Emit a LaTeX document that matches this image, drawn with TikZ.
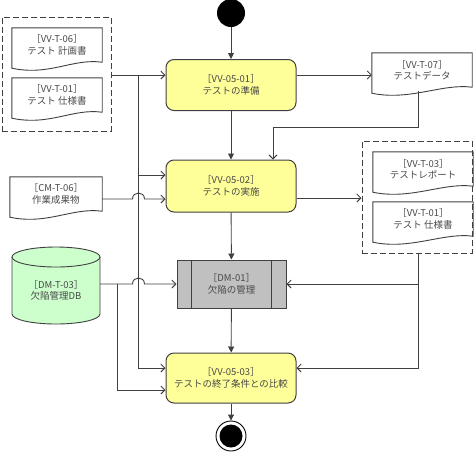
\documentclass[tikz,border=0pt]{standalone}
\usepackage{fontspec}
\setmainfont{Noto Sans CJK JP}
\usetikzlibrary{arrows.meta,calc}
\definecolor{ln}{HTML}{404040}
\definecolor{txt}{HTML}{484848}
\definecolor{ylw}{HTML}{FFFF99}
\definecolor{grn}{HTML}{CCFFCC}
\definecolor{gry}{HTML}{C0C0C0}
\newcommand{\docshape}[1]{%
  \draw[docline] (#1.north west) -- (#1.north east) -- (#1.south east)
   .. controls ($(#1.south east)+(-30,-4)$) and ($(#1.south west)+(38,14)$) .. ($(#1.south west)+(0,6)$) -- cycle;}
\begin{document}
\begin{tikzpicture}[x=1pt,y=-1pt,
  font=\fontsize{9.5}{11.5}\selectfont,
  line/.style={draw=ln,line width=0.9pt},
  ctrl/.style={line,-{Triangle[length=6pt,width=6pt]}},
  obj/.style={line,-{Straight Barb[length=4pt,width=8pt]}},
  act/.style={draw=ln,line width=1pt,fill=ylw,rounded corners=8pt,text=txt,align=center,minimum width=130pt,inner sep=0pt},
  doc/.style={text=txt,align=center,minimum height=34pt,inner sep=0pt},
  docline/.style={draw=ln,line width=0.9pt},
  group/.style={draw=ln,line width=1pt,dash pattern=on 6pt off 3pt,inner sep=0pt},
]
\useasboundingbox (0,0) rectangle (474,451);
\clip (0,0) rectangle (474,451);

% groups
\node[group,minimum width=109pt,minimum height=114pt] (g1) at (56.5,74) {};
\node[group,minimum width=110pt,minimum height=112pt] (g2) at (417,197) {};

% documents
\node[doc,minimum width=90pt] (t06) at (57,45) {［VV-T-06］\\テスト 計画書};
\node[doc,minimum width=90pt] (t01a) at (57,95) {［VV-T-01］\\テスト 仕様書};
\node[doc,minimum width=100pt] (t07) at (422,70) {［VV-T-07］\\テストデータ};
\node[doc,minimum width=92pt] (cm06) at (56,194) {［CM-T-06］\\作業成果物};
\node[doc,minimum width=100pt] (t03) at (423,169) {［VV-T-03］\\テストレポート};
\node[doc,minimum width=100pt] (t01b) at (423,219) {［VV-T-01］\\テスト 仕様書};
\docshape{t06}\docshape{t01a}\docshape{t07}\docshape{cm06}\docshape{t03}\docshape{t01b}

% database cylinder
\node[minimum width=88pt,minimum height=77pt,inner sep=0pt] (db) at (56,285.5) {};
\filldraw[draw=ln,line width=0.9pt,fill=grn] (12,257) -- (12,314)
  arc[start angle=180,end angle=360,x radius=44pt,y radius=10pt] -- (100,257) -- cycle;
\filldraw[draw=ln,line width=0.9pt,fill=grn] (56,257) ellipse[x radius=44pt,y radius=10pt];
\node[text=txt,align=center] (dbl) at ($(db.center)+(0,5)$) {［DM-T-03］\\欠陥管理DB};

% start / end
\node[circle,fill=black,minimum size=28pt,inner sep=0pt] (start) at (231,13) {};
\node[circle,draw=black,line width=0.9pt,minimum size=30pt,inner sep=0pt] (end) at (231,436) {};
\node[circle,fill=black,minimum size=23pt,inner sep=0pt] (endin) at (231,436) {};

% activities
\node[act,minimum height=51pt] (a1) at (231,85) {［VV-05-01］\\テストの準備};
\node[act,minimum height=52pt] (a2) at (231,186) {［VV-05-02］\\テストの実施};
\node[act,minimum height=50pt] (a3) at (231,378) {［VV-05-03］\\テストの終了条件との比較};
\node[draw=ln,line width=1pt,fill=gry,text=txt,align=center,minimum width=109pt,minimum height=48pt,inner sep=0pt] (dm) at (231.5,284) {［DM-01］\\欠陥の管理};
\draw[line] ($(dm.north west)+(15,0)$) -- ($(dm.south west)+(15,0)$);
\draw[line] ($(dm.north east)+(-15,0)$) -- ($(dm.south east)+(-15,0)$);

% control flow
\draw[ctrl] (start) -- (a1);
\draw[ctrl] (a1) -- (a2);
\draw[ctrl] (a2) -- (dm);
\draw[ctrl] (dm) -- (a3);
\draw[ctrl] (a3) -- (end);

% object flows left
\coordinate (a1in) at ([yshift=10pt]a1.west);
\draw[obj] (a1in -| g1.east) -- (a1in);
\coordinate (tr0) at ($(a1in -| g1.east)+(27,0)$);
\coordinate (a3in1) at ([yshift=10pt]a3.west);
\coordinate (a3in2) at ([yshift=-12pt]a3.west);
\draw[obj] (tr0) |- (a3in1);
\coordinate (a2in1) at ([yshift=11pt]a2.west);
\coordinate (a2in2) at ([yshift=-13pt]a2.west);
\draw[obj] (tr0 |- a2in1) -- (a2in1);
\draw[obj] (cm06.east |- a2in2) -- ($(tr0 |- a2in2)+(-6,0)$)
  .. controls +(0,-8) and +(0,-8) .. ++(12,0) -- (a2in2);
\draw[obj] (db.east |- dm.west) -- ($(tr0 |- dm.west)+(-6,0)$)
  .. controls +(0,-8) and +(0,-8) .. ++(12,0) -- (dm.west);
\coordinate (dbx) at ($(db.east |- dm.west)+(17,0)$);
\draw[obj] (dbx) |- (a3in2);

% object flows right
\coordinate (a1out) at ([yshift=10pt]a1.east);
\draw[obj] (a1out) -- (a1out -| t07.west);
\coordinate (t07b) at ($(t07.south)+(-4,4)$);
\coordinate (k) at ($(a2.north)+(42,-32)$);
\draw[obj] (t07b) |- (k) -- (k |- a2.north);
\coordinate (a2out) at ([yshift=-12pt]a2.east);
\draw[obj] (a2out) -- (a2out -| g2.west);
\coordinate (g2b) at ($(g2.south)+(1,0)$);
\coordinate (a3out) at ([yshift=10pt]a3.east);
\draw[obj] (g2b) |- (a3out);
\draw[obj] (g2b |- dm.east) -- (dm.east);
\end{tikzpicture}
\end{document}
